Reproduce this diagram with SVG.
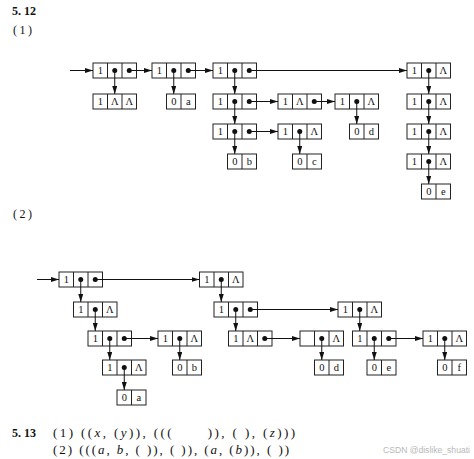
<svg xmlns="http://www.w3.org/2000/svg" width="474" height="459" viewBox="0 0 474 459">
<defs>
<marker id="ah" markerUnits="userSpaceOnUse" markerWidth="8" markerHeight="5" refX="8" refY="2.5" orient="auto"><path d="M0,0 L8,2.5 L0,5 z" fill="#111"/></marker>
<g id="n3"><rect x="0" y="0" width="43.5" height="15" class="box"/><line x1="14.5" y1="0" x2="14.5" y2="15" class="sep"/><line x1="29" y1="0" x2="29" y2="15" class="sep"/></g>
<g id="n2"><rect x="0" y="0" width="29" height="15" class="box"/><line x1="14.5" y1="0" x2="14.5" y2="15" class="sep"/></g>
</defs>
<style>
.box{fill:#fff;stroke:#222;stroke-width:1}
.sep{stroke:#222;stroke-width:1}
.t{font-family:"Liberation Serif",serif;font-size:10.5px;text-anchor:middle;fill:#111}
.d{fill:#111}
.c line{stroke:#111;stroke-width:1;marker-end:url(#ah)}
.h{font-family:"Liberation Serif",serif;font-size:12px;font-weight:bold;fill:#111}
.p{font-family:"Liberation Serif","Noto Sans CJK SC",serif;font-size:13px;fill:#111}
.q{font-family:"Liberation Serif",serif;font-size:12px;fill:#111;letter-spacing:2.5px}
.i{font-style:italic}
.wm{font-family:"Liberation Sans",sans-serif;font-size:8.5px;fill:#b8b8b8}
</style>
<rect width="474" height="459" fill="#fff"/>
<text class="h" x="12" y="15">5. 12</text>
<text class="q" x="13" y="34">(1)</text>
<text class="q" x="13" y="218">(2)</text>

<!-- top section nodes -->
<g id="A1" transform="translate(93,63)"><use href="#n3"/><text class="t" x="7.25" y="11">1</text><circle class="d" cx="21.75" cy="7.5" r="2.5"/><circle class="d" cx="36.25" cy="7.5" r="2.5"/></g>
<g id="A2" transform="translate(152,63)"><use href="#n3"/><text class="t" x="7.25" y="11">1</text><circle class="d" cx="21.75" cy="7.5" r="2.5"/><circle class="d" cx="36.25" cy="7.5" r="2.5"/></g>
<g id="A3" transform="translate(213,63)"><use href="#n3"/><text class="t" x="7.25" y="11">1</text><circle class="d" cx="21.75" cy="7.5" r="2.5"/><circle class="d" cx="36.25" cy="7.5" r="2.5"/></g>
<g id="TR1" transform="translate(407,63)"><use href="#n3"/><text class="t" x="7.25" y="11">1</text><circle class="d" cx="21.75" cy="7.5" r="2.5"/><text class="t" x="36.25" y="11">Λ</text></g>
<g id="N1" transform="translate(93,94)"><use href="#n3"/><text class="t" x="7.25" y="11">1</text><text class="t" x="21.75" y="11">Λ</text><text class="t" x="36.25" y="11">Λ</text></g>
<g id="Sa" transform="translate(166.5,94)"><use href="#n2"/><text class="t" x="7.25" y="11">0</text><text class="t" x="21.75" y="11">a</text></g>
<g id="C1" transform="translate(213,94)"><use href="#n3"/><text class="t" x="7.25" y="11">1</text><circle class="d" cx="21.75" cy="7.5" r="2.5"/><circle class="d" cx="36.25" cy="7.5" r="2.5"/></g>
<g id="D1" transform="translate(278,94)"><use href="#n3"/><text class="t" x="7.25" y="11">1</text><text class="t" x="21.75" y="11">Λ</text><circle class="d" cx="36.25" cy="7.5" r="2.5"/></g>
<g id="D2" transform="translate(335,94)"><use href="#n3"/><text class="t" x="7.25" y="11">1</text><circle class="d" cx="21.75" cy="7.5" r="2.5"/><text class="t" x="36.25" y="11">Λ</text></g>
<g id="TR2" transform="translate(407,94)"><use href="#n3"/><text class="t" x="7.25" y="11">1</text><circle class="d" cx="21.75" cy="7.5" r="2.5"/><text class="t" x="36.25" y="11">Λ</text></g>
<g id="C2" transform="translate(213,124)"><use href="#n3"/><text class="t" x="7.25" y="11">1</text><circle class="d" cx="21.75" cy="7.5" r="2.5"/><circle class="d" cx="36.25" cy="7.5" r="2.5"/></g>
<g id="D3" transform="translate(278,124)"><use href="#n3"/><text class="t" x="7.25" y="11">1</text><circle class="d" cx="21.75" cy="7.5" r="2.5"/><text class="t" x="36.25" y="11">Λ</text></g>
<g id="Sd" transform="translate(349.5,124)"><use href="#n2"/><text class="t" x="7.25" y="11">0</text><text class="t" x="21.75" y="11">d</text></g>
<g id="TR3" transform="translate(407,124)"><use href="#n3"/><text class="t" x="7.25" y="11">1</text><circle class="d" cx="21.75" cy="7.5" r="2.5"/><text class="t" x="36.25" y="11">Λ</text></g>
<g id="Sb" transform="translate(227.5,154)"><use href="#n2"/><text class="t" x="7.25" y="11">0</text><text class="t" x="21.75" y="11">b</text></g>
<g id="Sc" transform="translate(292.5,154)"><use href="#n2"/><text class="t" x="7.25" y="11">0</text><text class="t" x="21.75" y="11">c</text></g>
<g id="TR4" transform="translate(407,154)"><use href="#n3"/><text class="t" x="7.25" y="11">1</text><circle class="d" cx="21.75" cy="7.5" r="2.5"/><text class="t" x="36.25" y="11">Λ</text></g>
<g id="Se" transform="translate(421.5,184)"><use href="#n2"/><text class="t" x="7.25" y="11">0</text><text class="t" x="21.75" y="11">e</text></g>

<!-- bottom section nodes -->
<g id="B1" transform="translate(59,272)"><use href="#n3"/><text class="t" x="7.25" y="11">1</text><circle class="d" cx="21.75" cy="7.5" r="2.5"/><circle class="d" cx="36.25" cy="7.5" r="2.5"/></g>
<g id="B2" transform="translate(199.5,272)"><use href="#n3"/><text class="t" x="7.25" y="11">1</text><circle class="d" cx="21.75" cy="7.5" r="2.5"/><text class="t" x="36.25" y="11">Λ</text></g>
<g id="E1" transform="translate(73.5,302)"><use href="#n3"/><text class="t" x="7.25" y="11">1</text><circle class="d" cx="21.75" cy="7.5" r="2.5"/><text class="t" x="36.25" y="11">Λ</text></g>
<g id="F1" transform="translate(214,302)"><use href="#n3"/><text class="t" x="7.25" y="11">1</text><circle class="d" cx="21.75" cy="7.5" r="2.5"/><circle class="d" cx="36.25" cy="7.5" r="2.5"/></g>
<g id="F2" transform="translate(338,302)"><use href="#n3"/><text class="t" x="7.25" y="11">1</text><circle class="d" cx="21.75" cy="7.5" r="2.5"/><text class="t" x="36.25" y="11">Λ</text></g>
<g id="E2" transform="translate(88,331)"><use href="#n3"/><text class="t" x="7.25" y="11">1</text><circle class="d" cx="21.75" cy="7.5" r="2.5"/><circle class="d" cx="36.25" cy="7.5" r="2.5"/></g>
<g id="E3" transform="translate(158,331)"><use href="#n3"/><text class="t" x="7.25" y="11">1</text><circle class="d" cx="21.75" cy="7.5" r="2.5"/><text class="t" x="36.25" y="11">Λ</text></g>
<g id="G1" transform="translate(228.5,331)"><use href="#n3"/><text class="t" x="7.25" y="11">1</text><text class="t" x="21.75" y="11">Λ</text><circle class="d" cx="36.25" cy="7.5" r="2.5"/></g>
<g id="G2" transform="translate(300,331)"><use href="#n3"/><circle class="d" cx="21.75" cy="7.5" r="2.5"/><text class="t" x="36.25" y="11">Λ</text></g>
<g id="G3" transform="translate(352.5,331)"><use href="#n3"/><text class="t" x="7.25" y="11">1</text><circle class="d" cx="21.75" cy="7.5" r="2.5"/><circle class="d" cx="36.25" cy="7.5" r="2.5"/></g>
<g id="G4" transform="translate(423,331)"><use href="#n3"/><text class="t" x="7.25" y="11">1</text><circle class="d" cx="21.75" cy="7.5" r="2.5"/><text class="t" x="36.25" y="11">Λ</text></g>
<g id="E4" transform="translate(102.5,360)"><use href="#n3"/><text class="t" x="7.25" y="11">1</text><circle class="d" cx="21.75" cy="7.5" r="2.5"/><text class="t" x="36.25" y="11">Λ</text></g>
<g id="Sb2" transform="translate(172.5,360)"><use href="#n2"/><text class="t" x="7.25" y="11">0</text><text class="t" x="21.75" y="11">b</text></g>
<g id="Sd2" transform="translate(314.5,360)"><use href="#n2"/><text class="t" x="7.25" y="11">0</text><text class="t" x="21.75" y="11">d</text></g>
<g id="Se2" transform="translate(367,360)"><use href="#n2"/><text class="t" x="7.25" y="11">0</text><text class="t" x="21.75" y="11">e</text></g>
<g id="Sf" transform="translate(437.5,360)"><use href="#n2"/><text class="t" x="7.25" y="11">0</text><text class="t" x="21.75" y="11">f</text></g>
<g id="Sa2" transform="translate(117,390)"><use href="#n2"/><text class="t" x="7.25" y="11">0</text><text class="t" x="21.75" y="11">a</text></g>

<g id="connectors" class="c">
<line x1="70" y1="70.5" x2="93" y2="70.5"/>
<line x1="129.25" y1="70.5" x2="152" y2="70.5"/>
<line x1="188.25" y1="70.5" x2="213" y2="70.5"/>
<line x1="249.25" y1="70.5" x2="407" y2="70.5"/>
<line x1="114.75" y1="70.5" x2="114.75" y2="94"/>
<line x1="173.75" y1="70.5" x2="173.75" y2="94"/>
<line x1="234.75" y1="70.5" x2="234.75" y2="94"/>
<line x1="249.25" y1="101.5" x2="278" y2="101.5"/>
<line x1="314.25" y1="101.5" x2="335" y2="101.5"/>
<line x1="234.75" y1="101.5" x2="234.75" y2="124"/>
<line x1="356.75" y1="101.5" x2="356.75" y2="124"/>
<line x1="249.25" y1="131.5" x2="278" y2="131.5"/>
<line x1="234.75" y1="131.5" x2="234.75" y2="154"/>
<line x1="299.75" y1="131.5" x2="299.75" y2="154"/>
<line x1="428.75" y1="70.5" x2="428.75" y2="94"/>
<line x1="428.75" y1="101.5" x2="428.75" y2="124"/>
<line x1="428.75" y1="131.5" x2="428.75" y2="154"/>
<line x1="428.75" y1="161.5" x2="428.75" y2="184"/>

<line x1="37" y1="279.5" x2="59" y2="279.5"/>
<line x1="95.25" y1="279.5" x2="199.5" y2="279.5"/>
<line x1="80.75" y1="279.5" x2="80.75" y2="302"/>
<line x1="95.25" y1="309.5" x2="95.25" y2="331"/>
<line x1="109.75" y1="338.5" x2="109.75" y2="360"/>
<line x1="124.25" y1="338.5" x2="158" y2="338.5"/>
<line x1="124.25" y1="367.5" x2="124.25" y2="390"/>
<line x1="179.75" y1="338.5" x2="179.75" y2="360"/>
<line x1="221.25" y1="279.5" x2="221.25" y2="302"/>
<line x1="250.25" y1="309.5" x2="338" y2="309.5"/>
<line x1="235.75" y1="309.5" x2="235.75" y2="331"/>
<line x1="264.75" y1="338.5" x2="300" y2="338.5"/>
<line x1="321.75" y1="338.5" x2="321.75" y2="360"/>
<line x1="359.75" y1="309.5" x2="359.75" y2="331"/>
<line x1="374.25" y1="338.5" x2="374.25" y2="360"/>
<line x1="388.75" y1="338.5" x2="423" y2="338.5"/>
<line x1="444.75" y1="338.5" x2="444.75" y2="360"/>
</g>

<text class="h" x="12" y="437" font-size="13">5. 13</text>
<text class="p" x="53" y="437" textLength="242" lengthAdjust="spacing">(1) ((<tspan class="i">x</tspan>, (<tspan class="i">y</tspan>)), (((&#160;&#160;&#160;&#160;&#160;&#160;)), ( ), (<tspan class="i">z</tspan>)))</text>
<text class="p" x="53" y="454" textLength="236" lengthAdjust="spacing">(2) (((<tspan class="i">a</tspan>, <tspan class="i">b</tspan>, ( )), ( )), (<tspan class="i">a</tspan>, (<tspan class="i">b</tspan>)), ( ))</text>
<text class="wm" x="383" y="453" textLength="87" lengthAdjust="spacingAndGlyphs">CSDN @dislike_shuati</text>
</svg>
